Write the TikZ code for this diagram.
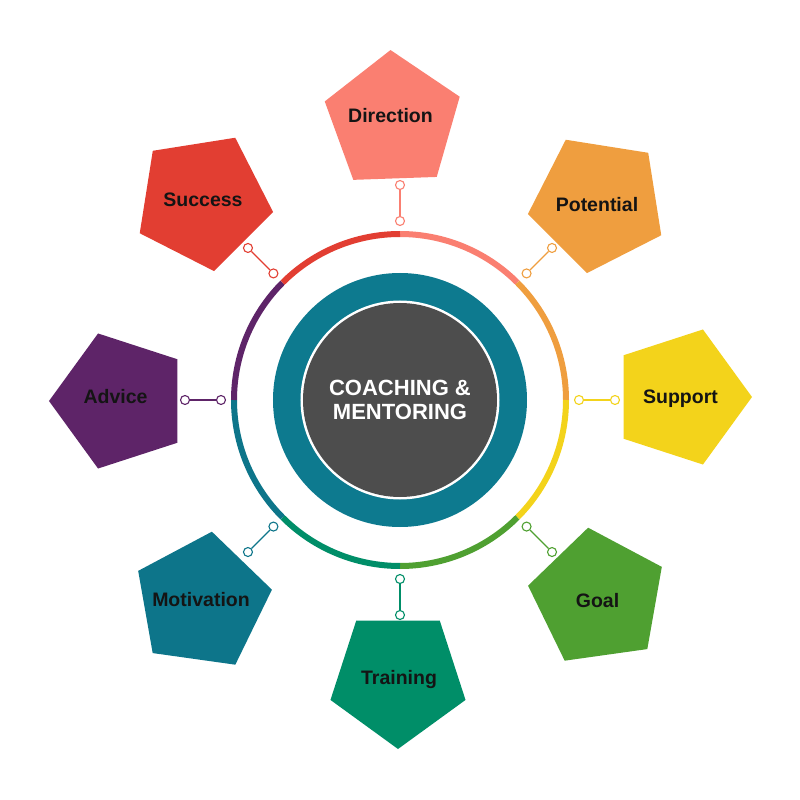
\documentclass[tikz,border=0pt]{standalone}
\usepackage{fontspec}
\setmainfont{Liberation Sans}
\usetikzlibrary{shapes.geometric}
\definecolor{cDir}{HTML}{FA7F71}
\definecolor{cPot}{HTML}{EF9E3F}
\definecolor{cSup}{HTML}{F3D31B}
\definecolor{cGoa}{HTML}{4FA031}
\definecolor{cTra}{HTML}{008E68}
\definecolor{cMot}{HTML}{0D758A}
\definecolor{cAdv}{HTML}{5E2468}
\definecolor{cSuc}{HTML}{E23E32}
\definecolor{cRing}{HTML}{0D7A8F}
\definecolor{cDark}{HTML}{4D4D4D}
\begin{document}
\begin{tikzpicture}[x=1pt,y=1pt,
  penta/.style={regular polygon, regular polygon sides=5, minimum size=142pt, inner sep=0pt, outer sep=0pt, draw=none, fill=#1},
  lbl/.style={anchor=base, font=\fontsize{19.5}{22}\selectfont\bfseries, text=black!92},
  dot/.style={circle, minimum size=9pt, inner sep=0pt, draw=#1, fill=white, line width=1.1pt},
  link/.style={draw=#1, line width=1.1pt},
  seg/.style={draw=#1, line width=6pt}]
\useasboundingbox (-400,-400) rectangle (400,400);
% center
\fill[cRing] (0,0) circle[radius=127];
\fill[white] (0,0) circle[radius=99.5];
\node[circle, fill=cDark, minimum size=194pt, inner sep=0pt] (hub) at (0,0) {};
\node[anchor=base, font=\fontsize{22}{24}\selectfont\bfseries, text=white] (t1) at (0,5) {COACHING \&};
\node[anchor=base, font=\fontsize{22}{24}\selectfont\bfseries, text=white] (t2) at (0,-19) {MENTORING};
% outer ring segments
\draw[seg=cDir] (90:166) arc[start angle=90, end angle=45, radius=166];
\draw[seg=cPot] (45:166) arc[start angle=45, end angle=0, radius=166];
\draw[seg=cSup] (0:166) arc[start angle=0, end angle=-45, radius=166];
\draw[seg=cGoa] (-45:166) arc[start angle=-45, end angle=-90, radius=166];
\draw[seg=cTra] (-90:166) arc[start angle=-90, end angle=-135, radius=166];
\draw[seg=cMot] (-135:166) arc[start angle=-135, end angle=-180, radius=166];
\draw[seg=cAdv] (180:166) arc[start angle=180, end angle=135, radius=166];
\draw[seg=cSuc] (135:166) arc[start angle=135, end angle=90, radius=166];
% pentagons
\node[penta=cDir, shape border rotate=2] (pDir) at (-7,279) {};
\node[penta=cPot, shape border rotate=-45] (pPot) at (198,197) {};
\node[penta=cSup, shape border rotate=-90] (pSup) at (281,3) {};
\node[penta=cGoa, shape border rotate=8] (pGoa) at (198,-198) {};
\node[penta=cTra, shape border rotate=180] (pTra) at (-2,-278) {};
\node[penta=cMot, shape border rotate=-8] (pMot) at (-198,-202) {};
\node[penta=cAdv, shape border rotate=90] (pAdv) at (-280,-1) {};
\node[penta=cSuc, shape border rotate=189] (pSuc) at (-197,199) {};
% labels
\node[lbl] (lDir) at (-9.5,277) {Direction};
\node[lbl] (lPot) at (197,188) {Potential};
\node[lbl] (lSup) at (280.5,-3) {Support};
\node[lbl] (lGoa) at (197.5,-207) {Goal};
\node[lbl] (lTra) at (-1,-284) {Training};
\node[lbl] (lMot) at (-199,-206) {Motivation};
\node[lbl] (lAdv) at (-284.5,-4) {Advice};
\node[lbl] (lSuc) at (-197,193) {Success};
% connectors
\foreach \a/\c/\n in {90/cDir/Dir,45/cPot/Pot,0/cSup/Sup,-45/cGoa/Goa,-90/cTra/Tra,-135/cMot/Mot,180/cAdv/Adv,135/cSuc/Suc}{
  \node[dot=\c] (i\n) at (\a:179) {};
  \node[dot=\c] (o\n) at (\a:215) {};
  \draw[link=\c] (i\n) -- (o\n);
}
\end{tikzpicture}
\end{document}
